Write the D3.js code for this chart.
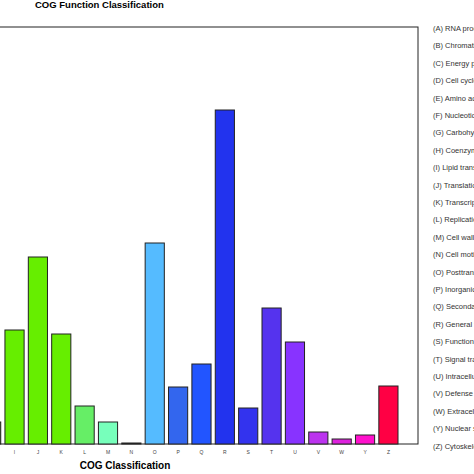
<!DOCTYPE html>
<html><head><meta charset="utf-8">
<script src="https://cdn.jsdelivr.net/npm/d3@7"></script>
<style>body{margin:0;background:#fff;overflow:hidden}</style>
</head><body><svg id="chart"></svg>
<script>
const letters = ["A","B","C","D","E","F","G","H","I","J","K","L","M","N","O","P","Q","R","S","T","U","V","W","Y","Z"];
const counts = [3,30,70,25,90,40,75,22,114,187,110,38,22,1,201,57,80,334,36,136,102,12,5,9,58];
const colors = ["#ff3300","#ff7700","#ffbb00","#eeee00","#bbee00","#99dd00","#77cc00","#4d7a2a","#66ee00","#66ee00","#66ee00","#66ee66","#77ffbb","#333333","#55bbff","#3366ee","#2255ff","#2233ee","#3333ee","#5533ee","#8833ff","#bb33ee","#dd22dd","#ff11cc","#ff0044"];
const names = ["RNA processing and modification","Chromatin structure and dynamics","Energy production and conversion","Cell cycle control, cell division","Amino acid transport and metabolism","Nucleotide transport and metabolism","Carbohydrate transport and metabolism","Coenzyme transport and metabolism","Lipid transport and metabolism","Translation, ribosomal structure","Transcription","Replication, recombination and repair","Cell wall/membrane/envelope biogenesis","Cell motility","Posttranslational modification","Inorganic ion transport and metabolism","Secondary metabolites biosynthesis","General function prediction only","Function unknown","Signal transduction mechanisms","Intracellular trafficking, secretion","Defense mechanisms","Extracellular structures","Nuclear structure","Cytoskeleton"];

const svg = d3.select("#chart").attr("width", 474).attr("height", 474);
const plotTop = 27, plotBottom = 444;

const x = d3.scaleBand().domain(letters).range([-182, 398]).paddingInner(0.18);
const y = d3.scaleLinear().domain([0, 417]).range([plotBottom, plotTop]);

svg.append("rect").attr("x", -190).attr("y", plotTop).attr("width", 608).attr("height", plotBottom - plotTop)
  .attr("fill", "none").attr("stroke", "#222").attr("stroke-width", 1);

svg.selectAll(".bar").data(letters).enter().append("rect")
  .attr("x", d => x(d)).attr("width", x.bandwidth())
  .attr("y", (d, i) => y(counts[i])).attr("height", (d, i) => plotBottom - y(counts[i]))
  .attr("fill", (d, i) => colors[i]).attr("stroke", "#222").attr("stroke-width", 1);

const xaxis = d3.axisBottom(x).tickSize(0).tickPadding(6);
svg.append("g").attr("transform", `translate(0,${plotBottom})`).call(xaxis)
  .call(g => g.select(".domain").remove())
  .selectAll("text").attr("font-size", 5).attr("fill", "#444").attr("font-family", "Liberation Sans");

svg.append("text").attr("x", 35).attr("y", 8).attr("font-family", "Liberation Sans")
  .attr("font-weight", "bold").attr("font-size", 9.5).text("COG Function Classification");
svg.append("text").attr("x", 125).attr("y", 469).attr("text-anchor", "middle").attr("font-family", "Liberation Sans")
  .attr("font-weight", "bold").attr("font-size", 10).text("COG Classification");

svg.selectAll(".leg").data(letters).enter().append("text")
  .attr("x", 433).attr("y", (d, i) => 31 + i * 17.4)
  .attr("font-family", "Liberation Sans").attr("font-size", 7.5).attr("fill", "#333")
  .text((d, i) => `(${d}) ${names[i]}`);
</script></body></html>
